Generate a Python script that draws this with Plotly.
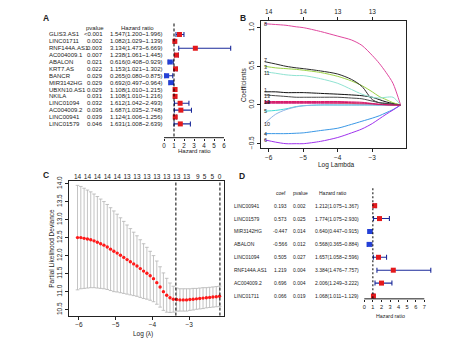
import plotly.graph_objects as go

W, H = 474, 348
def px(x): return x / W
def py(y): return 1 - y / H

FONT = "Liberation Sans, Arial, Helvetica, sans-serif"
RED = "#E3191C"
BLUE = "#2340D8"
NAVY = "#1B2A9A"

# ---------------- Panel A : univariate Cox ----------------
a_genes = ["GLIS3.AS1", "LINC01711", "RNF144A.AS1", "AC004009.1", "ABALON", "KRT7.AS",
           "BANCR", "MIR3142HG", "UBXN10.AS1", "NKILA", "LINC01094", "AC004009.2",
           "LINC00941", "LINC01579"]
a_pvalue = ["<0.001", "0.002", "0.003", "0.007", "0.021", "0.022", "0.029", "0.029",
            "0.029", "0.031", "0.032", "0.036", "0.039", "0.046"]
a_hr = [1.547, 1.082, 3.134, 1.238, 0.616, 1.153, 0.265, 0.692, 1.108, 1.108, 1.612, 1.687, 1.124, 1.631]
a_lo = [1.200, 1.029, 1.473, 1.061, 0.408, 1.021, 0.080, 0.497, 1.010, 1.010, 1.042, 1.035, 1.006, 1.008]
a_hi = [1.996, 1.139, 6.669, 1.445, 0.929, 1.302, 0.875, 0.964, 1.215, 1.216, 2.493, 2.748, 1.256, 2.639]
a_ticks = [0, 1, 2, 3, 4, 5, 6]

# ---------------- Panel B : LASSO coefficient paths ----------------
b_loglambda = [-6.12, -5.8, -5.5, -5.2, -5.0, -4.5, -4.0, -3.6, -3.3, -3.0, -2.8, -2.6, -2.4, -2.18]
coef_1 = [0.17, 0.17, 0.16, 0.16, 0.16, 0.15, 0.14, 0.13, 0.12, 0.10, 0.07, 0.04, 0.02, 0.0]
coef_2 = [0.02, 0.02, 0.02, 0.02, 0.02, 0.02, 0.02, 0.015, 0.01, 0.005, 0.0, 0.0, 0.0, 0.0]
coef_3 = [0.50, 0.48, 0.47, 0.46, 0.45, 0.42, 0.37, 0.31, 0.25, 0.17, 0.11, 0.07, 0.03, 0.0]
coef_4 = [-0.37, -0.37, -0.37, -0.365, -0.36, -0.33, -0.30, -0.25, -0.21, -0.17, -0.14, -0.10, -0.06, 0.0]
coef_5 = [-0.08, -0.07, -0.05, -0.02, -0.01, 0.0, 0.0, 0.0, 0.0, 0.0, 0.0, 0.0, 0.0, 0.0]
coef_6 = [-0.45, -0.48, -0.50, -0.50, -0.50, -0.47, -0.42, -0.36, -0.31, -0.24, -0.18, -0.12, -0.065, 0.0]
coef_7 = [0.56, 0.53, 0.50, 0.48, 0.47, 0.44, 0.40, 0.33, 0.24, 0.07, 0.03, 0.02, 0.01, 0.0]
coef_8 = [1.05, 1.04, 1.03, 1.01, 1.00, 0.95, 0.89, 0.84, 0.77, 0.64, 0.54, 0.42, 0.28, 0.0]
coef_9 = [0.03, 0.03, 0.03, 0.03, 0.03, 0.03, 0.025, 0.02, 0.015, 0.01, 0.005, 0.0, 0.0, 0.0]
coef_10 = [-0.24, -0.12, -0.06, -0.025, -0.01, 0.0, 0.0, 0.0, 0.0, 0.0, 0.0, 0.0, 0.0, 0.0]
coef_11 = [0.43, 0.41, 0.39, 0.38, 0.38, 0.34, 0.28, 0.20, 0.14, 0.10, 0.09, 0.10, 0.10, 0.0]
coef_12 = [0.045, 0.045, 0.045, 0.045, 0.045, 0.045, 0.045, 0.04, 0.035, 0.02, 0.01, 0.005, 0.0, 0.0]
coef_13 = [0.13, 0.12, 0.11, 0.10, 0.10, 0.10, 0.10, 0.09, 0.08, 0.05, 0.03, 0.02, 0.01, 0.0]
coef_14 = [0.035, 0.035, 0.035, 0.035, 0.035, 0.035, 0.035, 0.03, 0.025, 0.015, 0.008, 0.003, 0.0, 0.0]
b_paths = [coef_1, coef_2, coef_3, coef_4, coef_5, coef_6, coef_7,
           coef_8, coef_9, coef_10, coef_11, coef_12, coef_13, coef_14]
b_var_labels = ["1", "2", "3", "4", "5", "6", "7", "8", "9", "10", "11", "12", "13", "14"]
# labels drawn underneath the "12"/"14" pair are hidden in the original figure
b_hidden_labels = ["2", "9"]
b_ticks = [-6, -5, -4, -3]
b_top_labels = ["14", "14", "13", "13"]
b_yticks = [-0.5, 0.0, 0.5, 1.0]
b_colors = ["#111111", "#E0479E", "#9BD245", "#3A98E6", "#3FDCD6", "#A033EE", "#2A2A2A",
            "#E0479E", "#DF536B", "#8DB4E6", "#8FE3D2", "#E01D6E", "#4A4A4A", "#CC1466"]
# small pixel nudges so that crowded path labels stay legible
b_label_shift = {"1": 2.0, "13": -1.5, "7": 1.5, "3": -0.5, "11": -1.5}

# ---------------- Panel C : cross-validation ----------------
c_loglambda = [-6.04, -5.95, -5.86, -5.77, -5.68, -5.59, -5.50, -5.41, -5.32, -5.23, -5.14,
               -5.05, -4.96, -4.87, -4.78, -4.69, -4.60, -4.51, -4.42, -4.33, -4.24, -4.15,
               -4.06, -3.97, -3.88, -3.79, -3.70, -3.61, -3.52, -3.43, -3.34, -3.25, -3.16,
               -3.07, -2.98, -2.89, -2.80, -2.71, -2.62, -2.53, -2.44, -2.35, -2.26, -2.17]
c_deviance = [12.50, 12.50, 12.48, 12.46, 12.44, 12.41, 12.37, 12.33, 12.29, 12.24, 12.18,
              12.12, 12.07, 12.01, 11.95, 11.89, 11.83, 11.77, 11.71, 11.64, 11.57, 11.51,
              11.44, 11.36, 11.25, 11.13, 11.00, 10.90, 10.83, 10.79, 10.78, 10.77, 10.77,
              10.77, 10.78, 10.79, 10.80, 10.81, 10.82, 10.83, 10.84, 10.85, 10.86, 10.87]
c_sd = [1.45, 1.42, 1.39, 1.36, 1.33, 1.30, 1.27, 1.24, 1.21, 1.18, 1.15,
        1.12, 1.08, 1.04, 1.00, 0.96, 0.92, 0.88, 0.84, 0.80, 0.76, 0.72,
        0.68, 0.64, 0.60, 0.56, 0.52, 0.47, 0.41, 0.36, 0.32, 0.31, 0.31,
        0.31, 0.30, 0.30, 0.29, 0.29, 0.29, 0.28, 0.28, 0.28, 0.28, 0.28]
c_lambda_min = -3.36
c_lambda_1se = -2.16
c_nz_pos = [-6.04, -5.77, -5.50, -5.23, -4.96, -4.69, -4.42, -4.15, -3.88, -3.61, -3.34,
            -3.07, -2.76, -2.58, -2.37, -2.17]
c_nz_labels = ["14", "14", "14", "14", "14", "13", "13", "13", "13", "13", "13", "13",
               "9", "5", "5", "0"]
c_xticks = [-6, -5, -4, -3]
c_yticks = [10.5, 11.0, 11.5, 12.0, 12.5, 13.0, 13.5, 14.0]

# ---------------- Panel D : multivariate Cox ----------------
d_genes = ["LINC00941", "LINC01579", "MIR3142HG", "ABALON", "LINC01094", "RNF144A.AS1",
           "AC004009.2", "LINC01711"]
d_coef = [0.193, 0.573, -0.447, -0.566, 0.505, 1.219, 0.696, 0.066]
d_pvalue = ["0.002", "0.025", "0.014", "0.012", "0.027", "0.004", "0.004", "0.019"]
d_hr = [1.212, 1.774, 0.640, 0.568, 1.657, 3.384, 2.006, 1.068]
d_lo = [1.075, 1.075, 0.447, 0.365, 1.058, 1.476, 1.249, 1.011]
d_hi = [1.367, 2.930, 0.915, 0.884, 2.596, 7.757, 3.222, 1.129]
d_ticks = [0, 1, 2, 3, 4, 5, 6, 7]

fig = go.Figure()
ann = []
shapes = []

def minus(v):
    s = f"{v:g}" if isinstance(v, int) else f"{v:.1f}"
    return s.replace("-", "\u2212")

# ===== Panel A forest =====
fig.add_trace(go.Scatter(
    x=a_hr, y=a_genes, mode="markers", xaxis="x", yaxis="y",
    marker=dict(symbol="square", size=5, color=[RED if h > 1 else BLUE for h in a_hr], line=dict(width=0)),
    error_x=dict(type="data", symmetric=False,
                 array=[hi - h for hi, h in zip(a_hi, a_hr)],
                 arrayminus=[h - lo for h, lo in zip(a_hr, a_lo)],
                 color=NAVY, thickness=1.1, width=2.5),
    hoverinfo="skip", cliponaxis=False))
fsA = 6.0
for i, g in enumerate(a_genes):
    ann.append(dict(text=g, x=px(46.5), xref="paper", y=i, yref="y", xanchor="left", yanchor="middle",
                    showarrow=False, font=dict(size=fsA)))
    ann.append(dict(text=a_pvalue[i], x=px(104.5), xref="paper", y=i, yref="y", xanchor="right",
                    yanchor="middle", showarrow=False, font=dict(size=fsA)))
    ann.append(dict(text=f"{a_hr[i]:.3f}({a_lo[i]:.3f}~{a_hi[i]:.3f})", x=px(107.5), xref="paper",
                    y=i, yref="y", xanchor="left", yanchor="middle", showarrow=False, font=dict(size=fsA)))
ann.append(dict(text="pvalue", x=px(94.5), xref="paper", y=-1, yref="y", xanchor="center",
                yanchor="middle", showarrow=False, font=dict(size=fsA)))
ann.append(dict(text="Hazard ratio", x=px(137.5), xref="paper", y=-1, yref="y", xanchor="center",
                yanchor="middle", showarrow=False, font=dict(size=fsA)))
ann.append(dict(text="Hazard ratio", x=3, xref="x", y=py(149), yref="paper", xanchor="center",
                yanchor="middle", showarrow=False, font=dict(size=fsA)))
shapes.append(dict(type="line", xref="x", yref="y", x0=1, x1=1, y0=-1.6, y1=15.0,
                   line=dict(color="black", width=1, dash="3px,2px")))
shapes.append(dict(type="line", xref="x", yref="y domain", x0=a_ticks[0], x1=a_ticks[-1], y0=0, y1=0,
                   line=dict(color="black", width=0.9)))

# ===== Panel B paths =====
for k, path in enumerate(b_paths):
    fig.add_trace(go.Scatter(x=b_loglambda, y=path, mode="lines", xaxis="x2", yaxis="y2",
                             line=dict(color=b_colors[k], width=1, shape="spline", smoothing=0.8),
                             hoverinfo="skip"))
    lab = b_var_labels[k]
    if lab in b_hidden_labels:
        continue
    ann.append(dict(text=lab, x=-6.2, xref="x2", y=path[0], yref="y2", xanchor="left",
                    yanchor="middle", yshift=b_label_shift.get(lab, 0), showarrow=False,
                    font=dict(size=5.4, color="#222")))
fig.add_trace(go.Scatter(x=[b_ticks[0]], y=[0], xaxis="x3", yaxis="y2", mode="markers",
                         marker=dict(opacity=0), hoverinfo="skip"))

# ===== Panel C CV curve =====
fig.add_trace(go.Scatter(
    x=c_loglambda, y=c_deviance, mode="markers", xaxis="x4", yaxis="y4",
    marker=dict(color="#FF1A1A", size=3.4, line=dict(width=0)),
    error_y=dict(type="data", array=c_sd, color="#B4B4B4", thickness=0.8, width=1.8),
    hoverinfo="skip"))
fig.add_trace(go.Scatter(x=[c_xticks[0]], y=[c_yticks[0]], xaxis="x5", yaxis="y4", mode="markers",
                         marker=dict(opacity=0), hoverinfo="skip"))
for xv in (c_lambda_min, c_lambda_1se):
    shapes.append(dict(type="line", xref="x4", yref="y4 domain", x0=xv, x1=xv, y0=0, y1=1,
                       line=dict(color="black", width=1, dash="3px,2px")))

# ===== Panel D forest =====
fig.add_trace(go.Scatter(
    x=d_hr, y=d_genes, mode="markers", xaxis="x6", yaxis="y6",
    marker=dict(symbol="square", size=5, color=[RED if h > 1 else BLUE for h in d_hr], line=dict(width=0)),
    error_x=dict(type="data", symmetric=False,
                 array=[hi - h for hi, h in zip(d_hi, d_hr)],
                 arrayminus=[h - lo for h, lo in zip(d_hr, d_lo)],
                 color=NAVY, thickness=1.1, width=2.5),
    hoverinfo="skip", cliponaxis=False))
fsD = 5.0
for i, g in enumerate(d_genes):
    ann.append(dict(text=g, x=px(231.5), xref="paper", y=i, yref="y6", xanchor="left", yanchor="middle",
                    showarrow=False, font=dict(size=fsD)))
    ann.append(dict(text=f"{d_coef[i]:.3f}", x=px(289.3), xref="paper", y=i, yref="y6", xanchor="right",
                    yanchor="middle", showarrow=False, font=dict(size=fsD)))
    ann.append(dict(text=d_pvalue[i], x=px(308.3), xref="paper", y=i, yref="y6", xanchor="right",
                    yanchor="middle", showarrow=False, font=dict(size=fsD)))
    ann.append(dict(text=f"{d_hr[i]:.3f}({d_lo[i]:.3f}~{d_hi[i]:.3f})", x=px(312.7), xref="paper",
                    y=i, yref="y6", xanchor="left", yanchor="middle", showarrow=False, font=dict(size=fsD)))
for t, xc in (("coef", 281), ("pvalue", 300.5), ("Hazard ratio", 332)):
    ann.append(dict(text=t, x=px(xc), xref="paper", y=-1, yref="y6", xanchor="center",
                    yanchor="middle", showarrow=False, font=dict(size=fsD)))
ann.append(dict(text="Hazard ratio", x=3, xref="x6", y=py(316.7), yref="paper", xanchor="center",
                yanchor="middle", showarrow=False, font=dict(size=5.3)))
shapes.append(dict(type="line", xref="x6", yref="y6", x0=1, x1=1, y0=-1.35, y1=7.22,
                   line=dict(color="black", width=1, dash="2px,2px")))
shapes.append(dict(type="line", xref="x6", yref="y6 domain", x0=d_ticks[0], x1=d_ticks[-1], y0=0, y1=0,
                   line=dict(color="black", width=0.9)))

# ===== Titles / panel letters =====
for t, x, y in (("A", 46, 13), ("B", 242.5, 13), ("C", 46, 173), ("D", 241.5, 174)):
    ann.append(dict(text=f"<b>{t}</b>", x=px(x), y=py(y), xref="paper", yref="paper", xanchor="center",
                    yanchor="middle", showarrow=False, font=dict(size=8.5)))
ann.append(dict(text="Coefficients", x=px(243.5), y=py(81), xref="paper", yref="paper", textangle=-90,
                xanchor="center", yanchor="middle", showarrow=False, font=dict(size=6.5)))
ann.append(dict(text="Log Lambda", x=px(336), y=py(163), xref="paper", yref="paper",
                xanchor="center", yanchor="middle", showarrow=False, font=dict(size=6.5)))
ann.append(dict(text="Partial Likelihood Deviance", x=px(52), y=py(248), xref="paper", yref="paper",
                textangle=-90, xanchor="center", yanchor="middle", showarrow=False, font=dict(size=6.5)))
ann.append(dict(text="Log (\u03bb)", x=px(143), y=py(335), xref="paper", yref="paper",
                xanchor="center", yanchor="middle", showarrow=False, font=dict(size=6.5)))

common = dict(showgrid=False, zeroline=False, tickcolor="#222", tickwidth=0.8,
              linecolor="#222", tickfont=dict(size=6.5))

fig.update_layout(
    width=W, height=H, margin=dict(l=0, r=0, t=0, b=0),
    paper_bgcolor="white", plot_bgcolor="rgba(0,0,0,0)", showlegend=False,
    font=dict(family=FONT, color="#222"),
    annotations=ann, shapes=shapes,
    xaxis=dict(domain=[px(160), px(232)], range=[-0.4, 6.8], anchor="y", tickvals=a_ticks,
               ticks="outside", ticklen=2, showline=False, **{**common, "tickfont": dict(size=6.3)}),
    yaxis=dict(domain=[py(135), py(15)], type="category", categoryorder="array", categoryarray=a_genes,
               range=[15.0, -2.143], visible=False, anchor="x"),
    xaxis2=dict(domain=[px(261), px(406)], range=[-6.223, -2.023], anchor="y2", tickvals=b_ticks,
                ticktext=[minus(v) for v in b_ticks], ticks="outside", ticklen=3, showline=True,
                mirror=True, linewidth=1, **common),
    xaxis3=dict(overlaying="x2", side="top", anchor="y2", range=[-6.223, -2.023], tickvals=b_ticks,
                ticktext=b_top_labels, ticks="outside", ticklen=3, showline=False, **common),
    yaxis2=dict(domain=[py(146), py(16)], range=[-0.562, 1.089], anchor="x2", tickvals=b_yticks,
                ticktext=[minus(v) for v in b_yticks], tickangle=-90, ticks="outside", ticklen=3,
                showline=True, mirror=True, linewidth=1, **common),
    xaxis4=dict(domain=[px(69), px(224)], range=[-6.272, -2.049], anchor="y4", tickvals=c_xticks,
                ticktext=[minus(v) for v in c_xticks], ticks="outside", ticklen=3, showline=True,
                mirror=True, linewidth=1, **common),
    xaxis5=dict(overlaying="x4", side="top", anchor="y4", range=[-6.272, -2.049], tickvals=c_nz_pos,
                ticktext=c_nz_labels, ticks="", showline=False, **common),
    yaxis4=dict(domain=[py(316), py(179.5)], range=[10.336, 14.06], anchor="x4", tickvals=c_yticks,
                ticktext=[f"{v:.1f}" for v in c_yticks], tickangle=-90, ticks="outside", ticklen=3,
                showline=True, mirror=True, linewidth=1, **common),
    xaxis6=dict(domain=[px(360), px(434)], range=[-0.5, 8.13], anchor="y6", tickvals=d_ticks,
                ticks="outside", ticklen=2, showline=False, **{**common, "tickfont": dict(size=5.6)}),
    yaxis6=dict(domain=[py(299), py(183)], type="category", categoryorder="array", categoryarray=d_genes,
                range=[7.22, -1.614], visible=False, anchor="x6"),
)

fig.write_html("out.html", config={"displayModeBar": False})
